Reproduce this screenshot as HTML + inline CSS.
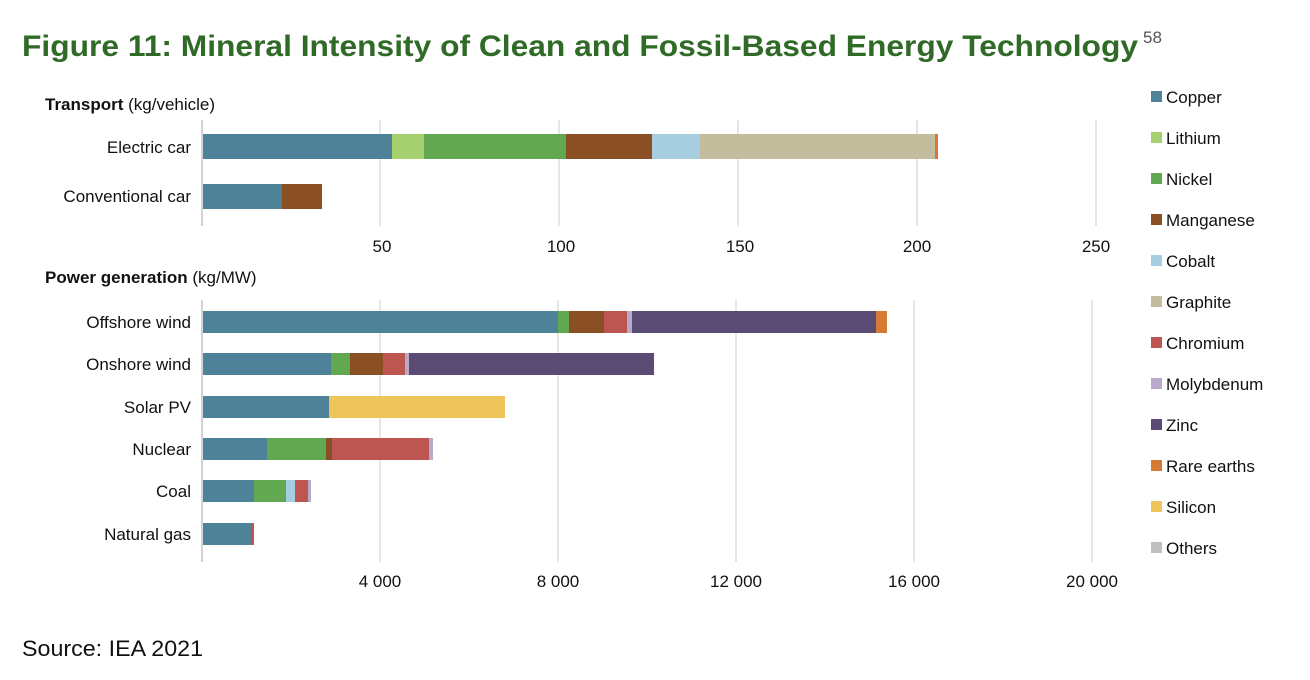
<!DOCTYPE html>
<html><head><meta charset="utf-8"><style>
html,body{margin:0;padding:0;background:#fff;}
svg{display:block;font-family:"Liberation Sans",Arial,sans-serif;}
</style></head><body>
<svg width="1310" height="680" viewBox="0 0 1310 680" xmlns="http://www.w3.org/2000/svg">
<text x="22" y="56" font-size="30" font-weight="bold" fill="#2f6b26" textLength="1116" lengthAdjust="spacingAndGlyphs">Figure 11: Mineral Intensity of Clean and Fossil-Based Energy Technology</text>
<text x="1143" y="43" font-size="17" fill="#555">58</text>

<text x="45" y="110" font-size="17" fill="#111"><tspan font-weight="bold">Transport</tspan> (kg/vehicle)</text>
<text x="45" y="283" font-size="17" fill="#111"><tspan font-weight="bold">Power generation</tspan> (kg/MW)</text>

<g stroke="#d9d9d9" stroke-width="1.3">
<line x1="380" y1="120" x2="380" y2="226"/><line x1="559" y1="120" x2="559" y2="226"/><line x1="738" y1="120" x2="738" y2="226"/><line x1="917" y1="120" x2="917" y2="226"/><line x1="1096" y1="120" x2="1096" y2="226"/>
<line x1="380" y1="300" x2="380" y2="562"/><line x1="558" y1="300" x2="558" y2="562"/><line x1="736" y1="300" x2="736" y2="562"/><line x1="914" y1="300" x2="914" y2="562"/><line x1="1092" y1="300" x2="1092" y2="562"/>
</g>
<g stroke="#bbb" stroke-width="1.3"><line x1="202" y1="120" x2="202" y2="226"/><line x1="202" y1="300" x2="202" y2="562"/></g>

<g font-size="17" fill="#111" text-anchor="end">
<text x="191" y="153">Electric car</text>
<text x="191" y="202">Conventional car</text>
<text x="191" y="328">Offshore wind</text>
<text x="191" y="370">Onshore wind</text>
<text x="191" y="413">Solar PV</text>
<text x="191" y="455">Nuclear</text>
<text x="191" y="497">Coal</text>
<text x="191" y="540">Natural gas</text>
</g>
<g font-size="17" fill="#111" text-anchor="middle">
<text x="382" y="252">50</text><text x="561" y="252">100</text><text x="740" y="252">150</text><text x="917" y="252">200</text><text x="1096" y="252">250</text>
<text x="380" y="587">4 000</text><text x="558" y="587">8 000</text><text x="736" y="587">12 000</text><text x="914" y="587">16 000</text><text x="1092" y="587">20 000</text>
</g>

<g>
<rect x="203" y="134" width="189" height="25" fill="#4e8299"/>
<rect x="392" y="134" width="32" height="25" fill="#a6d06e"/>
<rect x="424" y="134" width="142" height="25" fill="#62a853"/>
<rect x="566" y="134" width="86" height="25" fill="#8a4f25"/>
<rect x="652" y="134" width="48" height="25" fill="#a7cde0"/>
<rect x="700" y="134" width="235" height="25" fill="#c4bd9d"/>
<rect x="935" y="134" width="3" height="25" fill="#d47a34"/>
</g>
<g>
<rect x="203" y="184" width="79" height="25" fill="#4e8299"/>
<rect x="282" y="184" width="40" height="25" fill="#8a4f25"/>
</g>
<g>
<rect x="203" y="311" width="355" height="22" fill="#4e8299"/>
<rect x="558" y="311" width="11" height="22" fill="#62a853"/>
<rect x="569" y="311" width="35" height="22" fill="#8a4f25"/>
<rect x="604" y="311" width="23" height="22" fill="#bd5650"/>
<rect x="627" y="311" width="5" height="22" fill="#b9a9cb"/>
<rect x="632" y="311" width="244" height="22" fill="#594b73"/>
<rect x="876" y="311" width="11" height="22" fill="#d47a34"/>
</g>
<g>
<rect x="203" y="353" width="128" height="22" fill="#4e8299"/>
<rect x="331" y="353" width="19" height="22" fill="#62a853"/>
<rect x="350" y="353" width="33" height="22" fill="#8a4f25"/>
<rect x="383" y="353" width="22" height="22" fill="#bd5650"/>
<rect x="405" y="353" width="4" height="22" fill="#b9a9cb"/>
<rect x="409" y="353" width="245" height="22" fill="#594b73"/>
</g>
<g>
<rect x="203" y="396" width="126" height="22" fill="#4e8299"/>
<rect x="329" y="396" width="176" height="22" fill="#eec55a"/>
</g>
<g>
<rect x="203" y="438" width="64" height="22" fill="#4e8299"/>
<rect x="267" y="438" width="59" height="22" fill="#62a853"/>
<rect x="326" y="438" width="6" height="22" fill="#8a4f25"/>
<rect x="332" y="438" width="97" height="22" fill="#bd5650"/>
<rect x="429" y="438" width="4" height="22" fill="#b9a9cb"/>
</g>
<g>
<rect x="203" y="480" width="51" height="22" fill="#4e8299"/>
<rect x="254" y="480" width="32" height="22" fill="#62a853"/>
<rect x="286" y="480" width="9" height="22" fill="#a7cde0"/>
<rect x="295" y="480" width="13" height="22" fill="#bd5650"/>
<rect x="308" y="480" width="3" height="22" fill="#b9a9cb"/>
</g>
<g>
<rect x="203" y="523" width="49" height="22" fill="#4e8299"/>
<rect x="252" y="523" width="2" height="22" fill="#bd5650"/>
</g>

<g font-size="17" fill="#111">
<rect x="1151" y="91" width="11" height="11" fill="#4e8299"/><text x="1166" y="103">Copper</text>
<rect x="1151" y="132" width="11" height="11" fill="#a6d06e"/><text x="1166" y="144">Lithium</text>
<rect x="1151" y="173" width="11" height="11" fill="#62a853"/><text x="1166" y="185">Nickel</text>
<rect x="1151" y="214" width="11" height="11" fill="#8a4f25"/><text x="1166" y="226">Manganese</text>
<rect x="1151" y="255" width="11" height="11" fill="#a7cde0"/><text x="1166" y="267">Cobalt</text>
<rect x="1151" y="296" width="11" height="11" fill="#c4bd9d"/><text x="1166" y="308">Graphite</text>
<rect x="1151" y="337" width="11" height="11" fill="#bd5650"/><text x="1166" y="349">Chromium</text>
<rect x="1151" y="378" width="11" height="11" fill="#b9a9cb"/><text x="1166" y="390">Molybdenum</text>
<rect x="1151" y="419" width="11" height="11" fill="#594b73"/><text x="1166" y="431">Zinc</text>
<rect x="1151" y="460" width="11" height="11" fill="#d47a34"/><text x="1166" y="472">Rare earths</text>
<rect x="1151" y="501" width="11" height="11" fill="#eec55a"/><text x="1166" y="513">Silicon</text>
<rect x="1151" y="542" width="11" height="11" fill="#c0c0c0"/><text x="1166" y="554">Others</text>
</g>

<text x="22" y="656" font-size="22" fill="#111" textLength="181" lengthAdjust="spacingAndGlyphs">Source: IEA 2021</text>
</svg>
</body></html>
